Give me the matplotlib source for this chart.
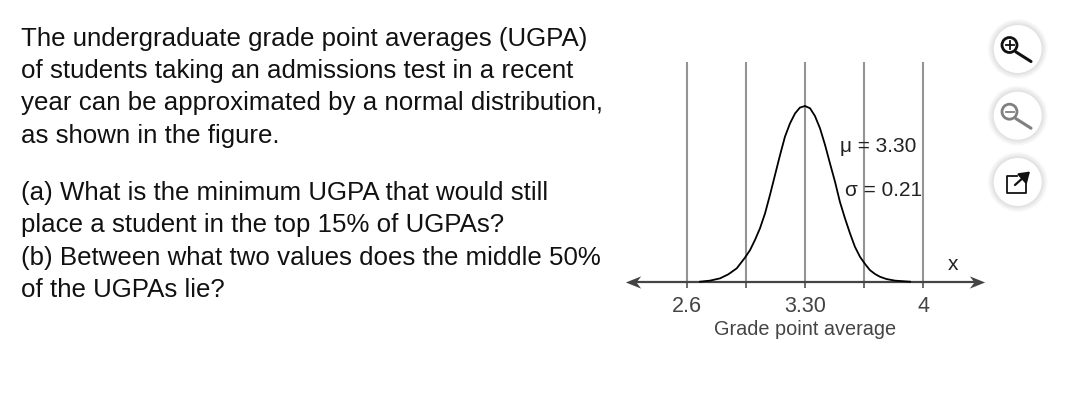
import matplotlib
matplotlib.use("Agg")
import matplotlib.pyplot as plt
from matplotlib.patches import Circle

plt.rcParams['font.family'] = ['Liberation Sans', 'DejaVu Sans']

question_lines = [
    "The undergraduate grade point averages (UGPA)",
    "of students taking an admissions test in a recent",
    "year can be approximated by a normal distribution,",
    "as shown in the figure.",
    "(a) What is the minimum UGPA that would still",
    "place a student in the top 15% of UGPAs?",
    "(b) Between what two values does the middle 50%",
    "of the UGPAs lie?",
]
question_baselines = [46, 78, 110, 143, 200, 232, 265, 297]

# curve, height is relative to the peak
gpa = [2.677, 2.736, 2.796, 2.845, 2.895, 2.944, 2.974, 3.003, 3.033, 3.063,
       3.092, 3.122, 3.152, 3.181, 3.211, 3.241, 3.270, 3.300, 3.330, 3.359,
       3.389, 3.419, 3.448, 3.478, 3.507, 3.537, 3.567, 3.596, 3.626, 3.656,
       3.685, 3.715, 3.745, 3.784, 3.834, 3.923]
height = [0, .006, .019, .042, .076, .137, .180, .237, .304, .389,
          .493, .607, .721, .825, .901, .958, .991, 1, .987, .943,
          .873, .778, .674, .569, .455, .361, .275, .199, .142, .101,
          .066, .044, .028, .015, .006, 0]
tick_pos = [2.6, 2.95, 3.3, 3.65, 4.0]
tick_labels = ["2.6", "", "3.30", "", "4"]

W, H = 1066, 400
AXIS_Y = 281.7
PEAK_Y = 106
GREY = "#949494"
DARK = "#444444"

fig = plt.figure(figsize=(W / 100, H / 100), dpi=100)
ax = fig.add_axes([687 / W, (H - AXIS_Y) / H, 236 / W, (AXIS_Y - PEAK_Y) / H])
ax.set_xlim(2.6, 4.0)
ax.set_ylim(0, 1)
ax.patch.set_visible(False)
for s in ax.spines.values():
    s.set_visible(False)
ax.set_yticks([])
ax.set_xticks(tick_pos)
ax.set_xticklabels(tick_labels, fontsize=15.5, color=DARK)
ax.tick_params(axis='x', length=4.5, width=1.1, color=DARK, pad=6)
ax.set_xlabel("Grade point average", fontsize=14.3, color=DARK, labelpad=2)

ax.vlines(tick_pos, 0, 1.25, color=GREY, lw=1.5, zorder=1, clip_on=False)

# axis with stealth arrow heads at both ends
ax.plot([2.277, 4.323], [0, 0], color=DARK, lw=1.6, clip_on=False, zorder=2)
left_head = [(-1, 0), (1, .8), (.4, 0), (1, -.8)]
right_head = [(1, 0), (-1, .8), (-.4, 0), (-1, -.8)]
ax.plot([2.277], [0], marker=left_head, ms=11, color=DARK, mew=0, clip_on=False, zorder=2)
ax.plot([4.323], [0], marker=right_head, ms=11, color=DARK, mew=0, clip_on=False, zorder=2)
ax.plot(gpa, height, color="black", lw=1.3, clip_on=False, zorder=3)

# everything else is placed in pixel coordinates
ov = fig.add_axes([0, 0, 1, 1])
ov.set_xlim(0, W)
ov.set_ylim(H, 0)
ov.axis('off')
ov.patch.set_visible(False)

for line, y in zip(question_lines, question_baselines):
    ov.text(21, y, line, fontsize=18.6, color="#111111", va='baseline', ha='left')

ov.text(840, 151.5, "\u03bc = 3.30", fontsize=15, color="#222222", va='baseline')
ov.text(845, 195.5, "\u03c3 = 0.21", fontsize=15, color="#222222", va='baseline')
ov.text(953, 270, "x", fontsize=15, color="#222222", va='baseline', ha='center')


def button(cy):
    for r in range(30, 23, -1):
        ov.add_patch(Circle((1017.7, cy), r, color="black", alpha=.02, lw=0))
    ov.add_patch(Circle((1017.7, cy), 24, color="white", lw=0))


def magnifier(cy, color, plus):
    ov.add_patch(Circle((1009.5, cy - 4), 7.5, fill=False, ec=color, lw=2))
    ov.plot([1016, 1031], [cy + 3, cy + 12.5], color=color, lw=2.2, solid_capstyle='round')
    ov.plot([1005.5, 1013.5], [cy - 4, cy - 4], color=color, lw=1.3)
    if plus:
        ov.plot([1009.5, 1009.5], [cy - 8, cy], color=color, lw=1.3)


button(49)
magnifier(49, "#111111", True)
button(115.7)
magnifier(115.7, "#808080", False)
button(182)
ov.plot([1017.3, 1007.3, 1007.3, 1025.7, 1025.7], [175.7, 175.7, 192.7, 192.7, 183],
        color="#111111", lw=1.3)
ov.annotate("", xy=(1030, 171.5), xytext=(1015, 185),
            arrowprops=dict(arrowstyle="-|>,head_length=0.6,head_width=0.4",
                            color="#111111", lw=1.6, shrinkA=0, shrinkB=0))

fig.savefig("out.png", dpi=100, facecolor="white")
